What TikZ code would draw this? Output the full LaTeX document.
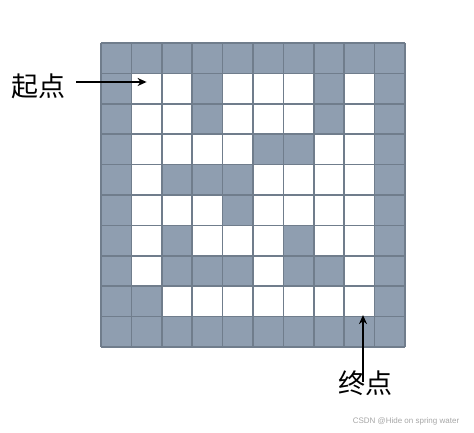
\documentclass[tikz,border=0pt]{standalone}
\usepackage{fontspec}
\newfontfamily\cjk{Noto Sans CJK SC}
\setsansfont{Liberation Sans}
\usetikzlibrary{arrows.meta}
\definecolor{wall}{RGB}{143,158,176}
\definecolor{gridline}{RGB}{112,125,140}

\begin{document}
\begin{tikzpicture}[x=1pt, y=-1pt, >={Stealth[length=9pt,width=8pt]},
    label/.style={font=\cjk\fontsize{27}{27}\selectfont, inner sep=0pt},
    pointer/.style={->, line width=1.8pt}]
    \useasboundingbox (0, 0) rectangle (474, 433);
    % maze, 10 x 10 cells of 30.4
    \scope[shift={(101, 43)}, x=30.4pt, y=-30.4pt]
      \fill[wall] (0, 0) rectangle (10, 10);
      \foreach \c/\r in {1/1,2/1,4/1,5/1,6/1,8/1,
                         1/2,2/2,4/2,5/2,6/2,8/2,
                         1/3,2/3,3/3,4/3,7/3,8/3,
                         1/4,5/4,6/4,7/4,8/4,
                         1/5,2/5,3/5,5/5,6/5,7/5,8/5,
                         1/6,3/6,4/6,5/6,7/6,8/6,
                         1/7,5/7,8/7,
                         2/8,3/8,4/8,5/8,6/8,7/8,8/8}
        \fill[white] (\c, \r) rectangle +(1, 1);
      \foreach \i in {0,...,10}
        \draw[gridline, line width=1.6pt] (\i, 0) -- (\i, 10) (0, \i) -- (10, \i);
      \coordinate (start) at (1.5, 1.58);
      \coordinate (goal) at (8.5, 8.95);
    \endscope
    \node[label] (startlabel) at (39, 86) {起点};
    \node[label] (goallabel) at (365, 383) {终点};
    \draw[pointer] (startlabel.east) ++(10pt, 4pt) coordinate (s0) -- (s0 -| start);
    \draw[pointer] (goallabel.north) ++(-2pt, -12pt) coordinate (g0) -- (g0 |- goal);
    \node[font=\sffamily\fontsize{8}{8}\selectfont, text=gray!70, inner sep=0pt]
      (mark) at (406, 421) {CSDN @Hide on spring water};
  \end{tikzpicture}
\end{document}
